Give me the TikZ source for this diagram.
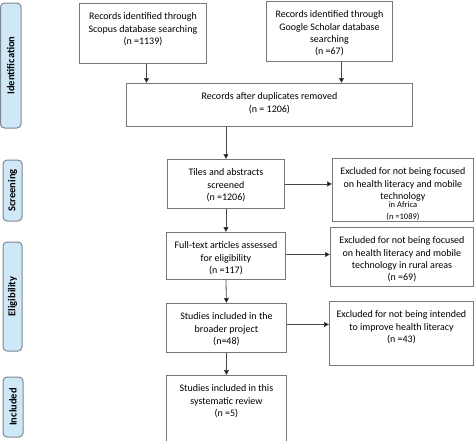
\documentclass[tikz,border=0pt]{standalone}
\usepackage{fontspec}
\setmainfont{Carlito}
\usetikzlibrary{arrows.meta}
\definecolor{boxgray}{RGB}{120,120,120}
\definecolor{arrgray}{RGB}{70,70,70}
\definecolor{pillfill}{RGB}{207,232,248}
\definecolor{pillline}{RGB}{125,135,145}
\newcommand{\fbtext}[3]{\parbox[c][#2pt][t]{#1pt}{\centering\fontsize{10}{12.3}\selectfont\rule{0pt}{16.5pt}#3}}
\begin{document}
\begin{tikzpicture}[x=1pt,y=-1pt,
  flowbox/.style={draw=boxgray, line width=0.9pt, inner sep=0pt, anchor=north west, fill=white},
  pill/.style={draw=pillline, fill=pillfill, line width=1pt, rounded corners=4pt, inner sep=0pt,
    rotate=90, font=\fontsize{10.5}{12}\selectfont\bfseries},
  arr/.style={draw=arrgray, line width=0.8pt, -{Triangle[length=5pt,width=5pt,fill=black]}}]
\useasboundingbox (0,0) rectangle (474,440);
\begin{scope}
\clip (0,0) rectangle (474,440);
% phase labels
\node[pill, minimum width=125pt, minimum height=20.5pt] (ident) at (10.75,65.5) {Identification};
\node[pill, minimum width=61pt, minimum height=19pt] (screen) at (12.5,190.5) {Screening};
\node[pill, minimum width=109pt, minimum height=19pt] (elig) at (12.5,296.5) {Eligibility};
\node[pill, minimum width=60pt, minimum height=20pt] (incl) at (13,407) {Included};
% boxes
\node[flowbox] (scopus) at (79,3) {\fbtext{127}{60}{Records identified through\\ Scopus database searching\\ (n =1139)}};
\node[flowbox] (google) at (266,1) {\fbtext{126}{60}{Records identified through\\ Google Scholar database\\ searching\\ (n =67)}};
\node[flowbox] (records) at (126,83) {\fbtext{286}{43}{Records after duplicates removed\\ (n = 1206)}};
\node[flowbox] (tiles) at (167,159) {\fbtext{117}{49}{Tiles and abstracts\\ screened\\ (n =1206)}};
\node[flowbox] (excl1) at (332,158) {\fbtext{141}{63}{Excluded for not being focused\\ on health literacy and mobile\\ technology\\[-2pt] {\fontsize{8.5}{9.5}\selectfont in Africa\\ (n =1089)}}};
\node[flowbox] (full) at (166,232) {\fbtext{119}{47}{Full-text articles assessed\\ for eligibility\\ (n =117)}};
\node[flowbox] (excl2) at (330,227) {\fbtext{143}{59}{Excluded for not being focused\\ on health literacy and mobile\\ technology in rural areas\\ (n =69)}};
\node[flowbox] (studies) at (166,303) {\fbtext{120}{49}{Studies included in the\\ broader project\\ (n=48)}};
\node[flowbox] (excl3) at (329,301) {\fbtext{144}{64}{Excluded for not being intended\\ to improve health literacy\\ (n =43)}};
\node[flowbox] (review) at (166,375) {\fbtext{120}{70}{Studies included in this\\ systematic review\\ (n =5)}};
% connectors
\draw[arr] ([xshift=3.5pt]scopus.south) -- ([xshift=3.5pt]scopus.south |- records.north);
\draw[arr] ([xshift=12pt]google.south) -- ([xshift=12pt]google.south |- records.north);
\draw[arr] (tiles.north |- records.south) -- (tiles.north);
\draw[arr] (tiles.south) -- (full.north);
\draw[arr] (full.south) -- (studies.north);
\draw[arr] (studies.south) -- (review.north);
\draw[arr] (tiles.east) -- (tiles.east -| excl1.west);
\draw[arr] ([yshift=1.5pt]full.east) -- ([yshift=1.5pt]full.east -| excl2.west);
\draw[arr] ([yshift=3.5pt]studies.east) -- ([yshift=3.5pt]studies.east -| excl3.west);
\end{scope}
\end{tikzpicture}
\end{document}
